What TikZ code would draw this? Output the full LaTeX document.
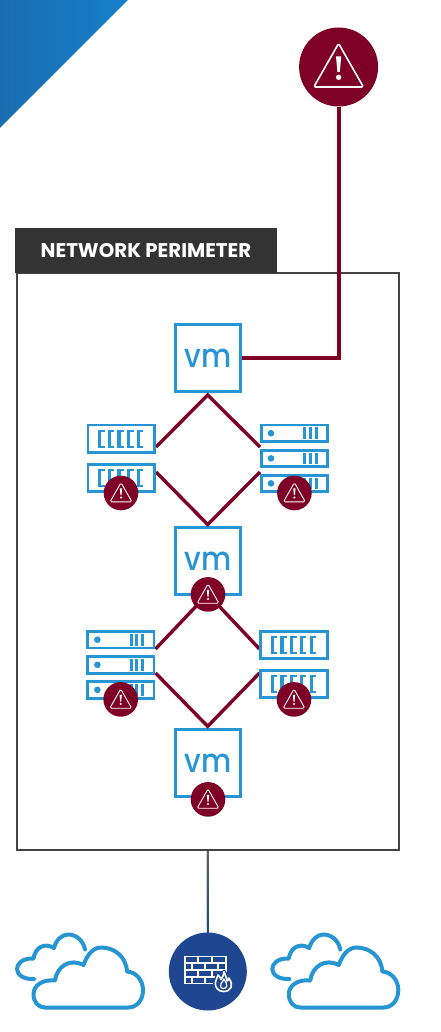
\documentclass[tikz,border=0pt]{standalone}
\usepackage{fontspec}
\newfontfamily\lab{Poppins}
\newfontfamily\vmfont[FakeStretch=0.88]{Poppins Medium}
\definecolor{vmblue}{HTML}{2595D3}
\definecolor{threat}{HTML}{7F0027}
\definecolor{navy}{HTML}{1F4690}
\definecolor{dark}{HTML}{333333}
\definecolor{frame}{HTML}{444444}
\definecolor{cornerA}{HTML}{1A6CB0}
\definecolor{cornerB}{HTML}{1580C8}
\tikzset{
  alertlw/.initial=1.6pt,
  perimbox/.style={draw=frame,line width=2pt,rectangle,minimum width=382.5pt,minimum height=577.5pt,inner sep=0pt},
  headbox/.style={fill=dark,text=white,rectangle,minimum width=262pt,minimum height=45pt,inner sep=0pt,font=\lab\bfseries\fontsize{19.8}{22}\selectfont},
  vmbox/.style={draw=vmblue,line width=2.8pt,fill=white,rectangle,minimum width=65pt,minimum height=67pt,inner sep=0pt,text=vmblue,font=\vmfont\fontsize{33}{36}\selectfont},
  bladebox/.style={draw=vmblue,line width=2.8pt,fill=white,rectangle,minimum width=66.8pt,minimum height=27.5pt,inner sep=0pt},
  rowbox/.style={draw=vmblue,line width=2.8pt,fill=white,rectangle,minimum width=66.4pt,minimum height=16.6pt,inner sep=0pt},
  alertbig/.style={circle,fill=threat,minimum size=79pt,inner sep=0pt},
  alertsmall/.style={circle,fill=threat,minimum size=34.6pt,inner sep=0pt},
  fwnode/.style={circle,fill=navy,minimum size=78pt,inner sep=0pt},
  threatline/.style={draw=threat,line width=3.4pt},
  threatthick/.style={draw=threat,line width=4pt},
  cloudline/.style={draw=vmblue,line width=4pt,line cap=round,line join=round},
  wallline/.style={draw=white,line width=1.4pt},
  bladeicon/.pic={
    \foreach \k in {0,1,2,3,4}{
      \fill[vmblue] ({-23.3+9.7*\k},-9) rectangle ({-20.0+9.7*\k},9);
      \fill[vmblue] ({-23.3+9.7*\k},-9) rectangle ({-16.8+9.7*\k},-7.2);
      \fill[vmblue] ({-23.3+9.7*\k},9) rectangle ({-16.8+9.7*\k},7.2);
    }
  },
  rowicon/.pic={
    \fill[vmblue] (-23.3,0) circle (3.3);
    \foreach \k in {10.6,16.2,21.8}{\fill[vmblue] ({\k-1.5},-5.8) rectangle ({\k+1.5},5.8);}
  },
  alertmark/.pic={
    \draw[white,line width=\pgfkeysvalueof{/tikz/alertlw},line join=round,rounded corners=1.5pt] (0,-23.5) -- (24.8,20) -- (-24.8,20) -- cycle;
    \fill[white] (-2.6,-10.5) -- (2.6,-10.5) -- (1.2,5) -- (-1.2,5) -- cycle;
    \fill[white] (0,10.3) circle (2.7);
  },
  cloudpic/.pic={
    \draw[cloudline] (45,1007.5) -- (128,1007.5)
      .. controls (137,1007.5) and (143,1000) .. (143,990)
      .. controls (143,980) and (136,972) .. (127,971.5)
      .. controls (126,956) and (114,947.5) .. (101,947.5)
      .. controls (93,947.5) and (87,955) .. (83.5,965)
      .. controls (70,958) and (57,966) .. (55,980.5)
      .. controls (42,979) and (33.5,986) .. (33.5,994)
      .. controls (33.5,1002) and (38,1007.5) .. (45,1007.5) -- cycle;
    \draw[cloudline] (85,949.5)
      .. controls (83,940) and (76,934.5) .. (68,934.5)
      .. controls (62,934.5) and (56,940) .. (54,948)
      .. controls (44,942) and (35,948) .. (33.5,958.5)
      .. controls (22,958) and (17,964) .. (17,969)
      .. controls (17,975) and (24,979.5) .. (34,979);
  }
}
\begin{document}
\begin{tikzpicture}[x=1pt,y=-1pt]
\useasboundingbox (0,0) rectangle (440,1032);
% corner triangle
\shade[left color=cornerA,right color=cornerB] (0,0) -- (128,0) -- (0,128) -- cycle;
% perimeter and header
\node[perimbox] (perim) at (207.75,561.25) {};
\node[headbox] (head) at (146,250.5) {NETWORK PERIMETER};
% vm boxes
\node[vmbox] (vm1) at (208,358) {vm};
\node[vmbox] (vm2) at (208,561) {vm};
\node[vmbox] (vm3) at (208,763) {vm};
% top alert and its connector
\node[alertbig] (alert0) at (338.6,67) {};
\draw[threatthick] (alert0.south) |- (vm1.east);
% free corners of the diamonds
\coordinate (d1t) at (207.7,395);
\coordinate (d1b) at (207.7,524.5);
\coordinate (d1lu) at (156,447);
\coordinate (d1ll) at (156,472);
\coordinate (d1ru) at (260,447);
\coordinate (d1rl) at (260,472);
\coordinate (d2t) at (207.7,594);
\coordinate (d2b) at (207.7,726.3);
\coordinate (d2lu) at (155.5,649);
\coordinate (d2ll) at (155.5,673);
\coordinate (d2ru) at (259.5,649);
\coordinate (d2rl) at (259.5,673);
\draw[threatline,line join=miter] (d1lu) -- (d1t) -- (d1ru);
\draw[threatline,line join=miter] (d1ll) -- (d1b) -- (d1rl);
\draw[threatline,line join=miter] (d2lu) -- (d2t) -- (d2ru);
\draw[threatline,line join=miter] (d2ll) -- (d2b) -- (d2rl);
% blades
\node[bladebox] (bl1) at (121.3,438.7) {};
\node[bladebox] (bl2) at (121.3,478) {};
\node[bladebox] (bl3) at (294,645) {};
\node[bladebox] (bl4) at (294,684) {};
\pic at (bl1.center) {bladeicon};
\pic at (bl2.center) {bladeicon};
\pic at (bl3.center) {bladeicon};
\pic at (bl4.center) {bladeicon};
% server rows
\node[rowbox] (sr1) at (294.3,433.2) {};
\node[rowbox] (sr2) at (294.3,458.4) {};
\node[rowbox] (sr3) at (294.3,483.4) {};
\node[rowbox] (sl1) at (120.7,639.7) {};
\node[rowbox] (sl2) at (120.7,664.8) {};
\node[rowbox] (sl3) at (120.7,689.8) {};
\foreach \n in {sr1,sr2,sr3,sl1,sl2,sl3}{\pic at (\n.center) {rowicon};}
% small alerts
\node[alertsmall] (a1) at (121,493) {};
\node[alertsmall] (a2) at (294.4,493) {};
\node[alertsmall] (a3) at (208,594.4) {};
\node[alertsmall] (a4) at (120.7,699.4) {};
\node[alertsmall] (a5) at (294,699.4) {};
\node[alertsmall] (a6) at (208,799.4) {};
\foreach \n in {a1,a2,a3,a4,a5,a6}{\pic[scale=.44,alertlw=.9pt] at (\n.center) {alertmark};}
\pic at (alert0.center) {alertmark};
% firewall
\node[fwnode] (fw) at (207.8,971.5) {};
\draw[draw=black!60!navy,line width=1.6pt] (perim.south) -- (fw.north);
\shade[top color=frame!85,bottom color=navy] ([xshift=-.8pt]perim.south) rectangle ([xshift=.8pt]fw.north);
\draw[wallline] (185,956.3) rectangle (226,983.7);
\draw[wallline] (185,963.1) -- (226,963.1) (185,970) -- (226,970) (185,976.9) -- (226,976.9);
\draw[wallline] (198,956.3) -- (198,963.1) (212,956.3) -- (212,963.1)
  (192,963.1) -- (192,970) (205,963.1) -- (205,970) (218,963.1) -- (218,970)
  (198,970) -- (198,976.9) (212,970) -- (212,976.9)
  (192,976.9) -- (192,983.7) (205,976.9) -- (205,983.7);
\path[fill=navy,draw=navy,line width=4.5pt,line join=round]
  (223.5,991.5) .. controls (218,991.5) and (215,987) .. (215.3,983) .. controls (215.5,980) and (217.5,978) .. (218,975)
  .. controls (220,976.5) and (220.5,978) .. (221,979.5) .. controls (222.5,977) and (224,975) .. (224,971.8)
  .. controls (226,975) and (226,978) .. (227,981) .. controls (228,980.5) and (228.5,979.5) .. (228.8,978)
  .. controls (231.5,982) and (232,985) .. (231,987.5) .. controls (230,990) and (227,991.5) .. (223.5,991.5) -- cycle;
\draw[white,line width=1.6pt,line join=round]
  (223.5,991.5) .. controls (218,991.5) and (215,987) .. (215.3,983) .. controls (215.5,980) and (217.5,978) .. (218,975)
  .. controls (220,976.5) and (220.5,978) .. (221,979.5) .. controls (222.5,977) and (224,975) .. (224,971.8)
  .. controls (226,975) and (226,978) .. (227,981) .. controls (228,980.5) and (228.5,979.5) .. (228.8,978)
  .. controls (231.5,982) and (232,985) .. (231,987.5) .. controls (230,990) and (227,991.5) .. (223.5,991.5) -- cycle;
\draw[white,line width=1.2pt,line join=round]
  (223.5,988.5) .. controls (220.5,988.5) and (219.8,985.5) .. (221,983.5) .. controls (222,982) and (223.5,981) .. (223.8,979)
  .. controls (225.5,982) and (227.5,984) .. (226.8,986) .. controls (226.3,987.6) and (225,988.5) .. (223.5,988.5) -- cycle;
% clouds
\pic at (0,0) {cloudpic};
\pic at (255.3,0) {cloudpic};
\end{tikzpicture}
\end{document}
